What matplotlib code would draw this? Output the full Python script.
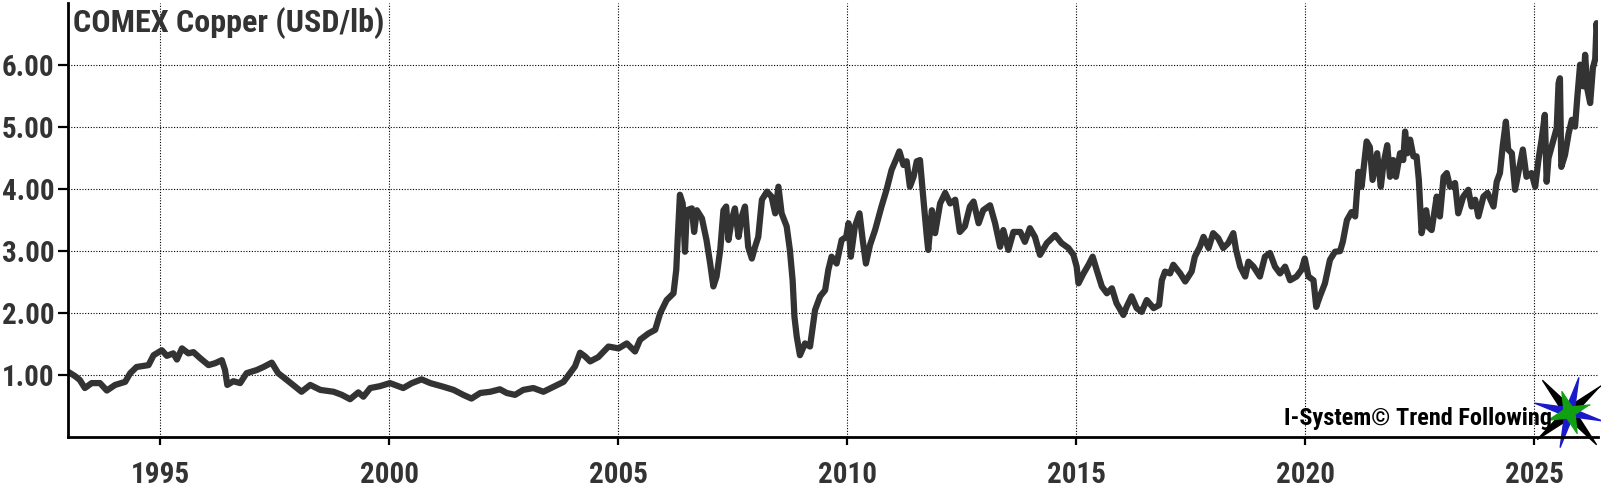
import os
import numpy as np
import matplotlib
matplotlib.use('Agg')
import matplotlib.pyplot as plt
from matplotlib import font_manager as fm

# copper price (decimal year, USD/lb)
years = [1993.00, 1993.15, 1993.25, 1993.36, 1993.51, 1993.69, 1993.84, 1994.02, 1994.24, 1994.35,
         1994.49, 1994.75, 1994.86, 1995.04, 1995.15, 1995.29, 1995.37, 1995.48, 1995.62, 1995.73,
         1995.88, 1996.06, 1996.20, 1996.35, 1996.42, 1996.47, 1996.60, 1996.75, 1996.89, 1997.11,
         1997.26, 1997.44, 1997.58, 1997.77, 1997.99, 1998.09, 1998.28, 1998.50, 1998.79, 1998.97,
         1999.15, 1999.33, 1999.44, 1999.59, 1999.80, 2000.02, 2000.31, 2000.50, 2000.71, 2000.90,
         2001.19, 2001.41, 2001.62, 2001.80, 2001.99, 2002.21, 2002.42, 2002.57, 2002.75, 2002.93,
         2003.15, 2003.37, 2003.59, 2003.81, 2003.95, 2004.06, 2004.17, 2004.28, 2004.39, 2004.57,
         2004.79, 2005.01, 2005.19, 2005.37, 2005.48, 2005.66, 2005.81, 2005.92, 2006.06, 2006.21,
         2006.27, 2006.30, 2006.35, 2006.41, 2006.46, 2006.50, 2006.61, 2006.66, 2006.72, 2006.83,
         2006.93, 2007.01, 2007.08, 2007.15, 2007.23, 2007.30, 2007.36, 2007.41, 2007.48, 2007.55,
         2007.63, 2007.70, 2007.77, 2007.84, 2007.92, 2007.99, 2008.06, 2008.14, 2008.25, 2008.35,
         2008.43, 2008.50, 2008.57, 2008.68, 2008.75, 2008.81, 2008.85, 2008.90, 2008.97, 2009.08,
         2009.19, 2009.30, 2009.41, 2009.52, 2009.59, 2009.66, 2009.77, 2009.88, 2009.98, 2010.03,
         2010.08, 2010.17, 2010.27, 2010.34, 2010.41, 2010.50, 2010.61, 2010.75, 2010.86, 2010.97,
         2011.08, 2011.14, 2011.23, 2011.30, 2011.37, 2011.45, 2011.52, 2011.59, 2011.66, 2011.74,
         2011.77, 2011.85, 2011.92, 2012.03, 2012.14, 2012.25, 2012.36, 2012.46, 2012.57, 2012.68,
         2012.76, 2012.87, 2012.97, 2013.12, 2013.23, 2013.34, 2013.41, 2013.52, 2013.63, 2013.78,
         2013.88, 2013.99, 2014.10, 2014.21, 2014.36, 2014.54, 2014.68, 2014.83, 2014.94, 2015.01,
         2015.05, 2015.16, 2015.27, 2015.36, 2015.45, 2015.56, 2015.67, 2015.78, 2015.88, 2016.03,
         2016.10, 2016.21, 2016.32, 2016.43, 2016.54, 2016.69, 2016.81, 2016.87, 2016.94, 2017.05,
         2017.12, 2017.27, 2017.38, 2017.52, 2017.59, 2017.70, 2017.78, 2017.89, 2017.99, 2018.10,
         2018.21, 2018.32, 2018.43, 2018.49, 2018.58, 2018.69, 2018.76, 2018.87, 2019.01, 2019.12,
         2019.23, 2019.34, 2019.45, 2019.56, 2019.67, 2019.81, 2019.92, 2019.99, 2020.07, 2020.18,
         2020.24, 2020.32, 2020.43, 2020.54, 2020.65, 2020.76, 2020.82, 2020.91, 2021.01, 2021.09,
         2021.16, 2021.23, 2021.34, 2021.41, 2021.47, 2021.57, 2021.65, 2021.71, 2021.79, 2021.85,
         2021.92, 2021.98, 2022.07, 2022.14, 2022.18, 2022.23, 2022.29, 2022.36, 2022.43, 2022.48,
         2022.51, 2022.54, 2022.64, 2022.69, 2022.76, 2022.87, 2022.94, 2023.02, 2023.09, 2023.16,
         2023.27, 2023.34, 2023.45, 2023.56, 2023.63, 2023.71, 2023.78, 2023.89, 2023.98, 2024.11,
         2024.18, 2024.25, 2024.31, 2024.38, 2024.43, 2024.51, 2024.58, 2024.65, 2024.75, 2024.83,
         2024.94, 2025.02, 2025.09, 2025.16, 2025.23, 2025.27, 2025.31, 2025.38, 2025.49, 2025.53,
         2025.56, 2025.59, 2025.67, 2025.75, 2025.82, 2025.89, 2025.94, 2026.00, 2026.07, 2026.11,
         2026.16, 2026.22, 2026.28, 2026.33, 2026.36, 2026.40]
prices = [1.05, 0.98, 0.92, 0.79, 0.87, 0.87, 0.75, 0.84, 0.89, 1.03,
          1.13, 1.16, 1.32, 1.40, 1.31, 1.35, 1.25, 1.43, 1.35, 1.37,
          1.27, 1.16, 1.19, 1.24, 1.08, 0.84, 0.90, 0.87, 1.03, 1.08,
          1.13, 1.20, 1.03, 0.92, 0.79, 0.73, 0.84, 0.76, 0.73, 0.68,
          0.61, 0.72, 0.65, 0.79, 0.82, 0.87, 0.79, 0.87, 0.93, 0.87,
          0.81, 0.76, 0.68, 0.62, 0.71, 0.73, 0.77, 0.71, 0.68, 0.76,
          0.79, 0.73, 0.81, 0.89, 1.03, 1.14, 1.36, 1.30, 1.22, 1.29,
          1.46, 1.43, 1.51, 1.38, 1.57, 1.67, 1.73, 2.00, 2.21, 2.32,
          2.70, 3.18, 3.91, 3.77, 2.99, 3.66, 3.69, 3.31, 3.66, 3.53,
          3.18, 2.80, 2.43, 2.59, 3.02, 3.66, 3.72, 3.18, 3.50, 3.69,
          3.23, 3.56, 3.72, 3.07, 2.88, 3.07, 3.23, 3.83, 3.96, 3.88,
          3.61, 4.04, 3.61, 3.40, 3.02, 2.53, 1.94, 1.62, 1.32, 1.51,
          1.46, 2.05, 2.27, 2.37, 2.70, 2.91, 2.80, 3.18, 3.23, 3.45,
          2.91, 3.40, 3.61, 3.18, 2.80, 3.10, 3.34, 3.72, 3.99, 4.31,
          4.50, 4.61, 4.39, 4.45, 4.04, 4.20, 4.45, 4.47, 3.88, 3.23,
          3.02, 3.66, 3.29, 3.77, 3.94, 3.77, 3.83, 3.31, 3.40, 3.72,
          3.80, 3.45, 3.66, 3.74, 3.45, 3.07, 3.34, 3.02, 3.31, 3.31,
          3.15, 3.37, 3.23, 2.94, 3.13, 3.26, 3.13, 3.05, 2.94, 2.75,
          2.48, 2.64, 2.78, 2.91, 2.69, 2.43, 2.32, 2.40, 2.16, 1.97,
          2.10, 2.27, 2.08, 2.02, 2.21, 2.08, 2.13, 2.53, 2.67, 2.64,
          2.78, 2.64, 2.51, 2.67, 2.91, 3.07, 3.23, 3.05, 3.29, 3.21,
          3.05, 3.13, 3.29, 3.02, 2.75, 2.59, 2.83, 2.75, 2.59, 2.91,
          2.97, 2.75, 2.64, 2.75, 2.53, 2.59, 2.70, 2.88, 2.59, 2.53,
          2.10, 2.27, 2.48, 2.86, 2.99, 3.00, 3.15, 3.50, 3.63, 3.56,
          4.28, 4.04, 4.77, 4.68, 4.15, 4.58, 4.04, 4.42, 4.71, 4.20,
          4.47, 4.20, 4.58, 4.47, 4.93, 4.58, 4.80, 4.53, 4.53, 4.15,
          3.72, 3.29, 3.66, 3.39, 3.34, 3.88, 3.56, 4.20, 4.26, 4.04,
          4.10, 3.61, 3.88, 3.99, 3.72, 3.83, 3.56, 3.88, 3.94, 3.72,
          4.12, 4.26, 4.69, 5.09, 4.64, 4.58, 3.99, 4.26, 4.64, 4.20,
          4.26, 4.04, 4.47, 4.80, 5.20, 4.12, 4.50, 4.69, 4.99, 5.71,
          5.79, 4.36, 4.55, 4.90, 5.12, 5.01, 5.49, 6.01, 5.66, 6.17,
          5.61, 5.39, 5.96, 6.10, 6.68, 6.25]

year_ticks = [1995, 2000, 2005, 2010, 2015, 2020, 2025]
price_ticks = [1.0, 2.0, 3.0, 4.0, 5.0, 6.0]

grey = '#333333'

# look for a narrow heavy face, the original uses an Impact-like font
font_file = None
all_files = [f.fname for f in fm.fontManager.ttflist]
for want in ['NotoSans-ExtraCondensedBlack', 'NotoSans-ExtraCondensedBold', 'NotoSans-CondensedBlack',
             'NotoSans-CondensedBold', 'RobotoCondensed-Bold', 'LiberationSansNarrow-Bold',
             'DejaVuSansCondensed-Bold']:
    hits = [f for f in all_files if os.path.basename(f).startswith(want)]
    if hits:
        font_file = hits[0]
        break

def fprop(size):
    if font_file:
        return fm.FontProperties(fname=font_file, size=size)
    return fm.FontProperties(family='DejaVu Sans', weight='bold', stretch='condensed', size=size)

narrow = font_file is not None
fig = plt.figure(figsize=(16.01, 4.90), dpi=100)
ax = fig.add_axes([0.0427, 0.1082, 0.9554, 0.885])

ax.plot(years, prices, color=grey, lw=4.5, solid_joinstyle='round')

ax.set_xlim(1993.0, 2026.39)
ax.set_ylim(0, 7.0)
ax.set_xticks(year_ticks)
ax.set_yticks(price_ticks)
ax.set_xticklabels([str(y) for y in year_ticks])
ax.set_yticklabels(['%.2f' % p for p in price_ticks])

for lab in ax.get_xticklabels():
    lab.set_fontproperties(fprop(21 if narrow else 17))
    lab.set_color(grey)
for lab in ax.get_yticklabels():
    lab.set_fontproperties(fprop(21 if narrow else 14))
    lab.set_color(grey)

ax.tick_params(axis='both', direction='out', width=1.6, color='black')
ax.tick_params(axis='y', length=7, pad=3)
ax.tick_params(axis='x', length=6, pad=11)

ax.grid(True, color='black', linestyle=(0, (1, 1.5)), linewidth=0.8)
for s in ['top', 'right']:
    ax.spines[s].set_visible(False)
for s in ['left', 'bottom']:
    ax.spines[s].set_linewidth(2)
    ax.spines[s].set_color('black')

ax.text(0.003, 0.992, 'COMEX Copper (USD/lb)', transform=ax.transAxes,
        ha='left', va='top', fontproperties=fprop(23 if narrow else 17), color=grey)

# watermark
ax.text(0.970, 0.028, 'I-System\u00a9 Trend Following', transform=ax.transAxes,
        ha='right', va='baseline', fontproperties=fprop(17.5 if narrow else 14), color='black')

def spike_star(n, inner, rot):
    ang = np.linspace(0, 2 * np.pi, 2 * n, endpoint=False) + np.deg2rad(rot)
    r = np.where(np.arange(2 * n) % 2 == 0, 1.0, inner)
    return np.column_stack([r * np.cos(ang), r * np.sin(ang)])

ax.plot([0.981], [0.058], transform=ax.transAxes, marker=spike_star(4, 0.16, 40),
        markersize=46, color='black', clip_on=False)
ax.plot([0.981], [0.058], transform=ax.transAxes, marker=spike_star(4, 0.16, -15),
        markersize=50, color='#1a1acc', clip_on=False)
ax.plot([0.981], [0.058], transform=ax.transAxes, marker=spike_star(4, 0.28, 20),
        markersize=30, color='#11a011', clip_on=False)

fig.savefig('out.png', dpi=100)
